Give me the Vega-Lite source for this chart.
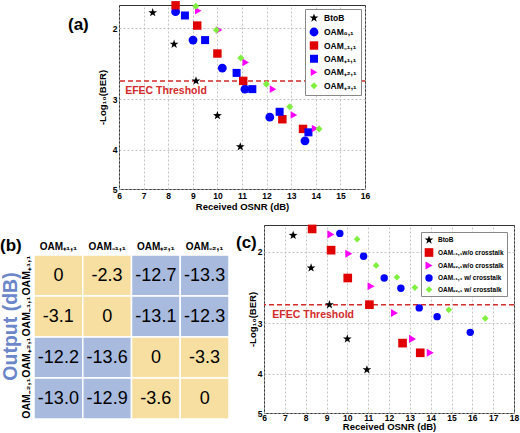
{
  "$schema": "https://vega.github.io/schema/vega-lite/v6.json",
  "padding": 0,
  "background": "white",
  "config": {
    "font": "Liberation Sans",
    "view": {"stroke": "#333333", "strokeWidth": 1},
    "axis": {
      "labelFontWeight": "bold", "labelFontSize": 8.5, "labelColor": "#000000",
      "titleFontWeight": "bold", "titleFontSize": 9.5, "titleColor": "#000000",
      "ticks": false, "domain": false,
      "gridColor": "#b5b5b5", "gridDash": [2, 2], "gridWidth": 0.8,
      "labelPadding": 2, "titlePadding": 2, "labelOverlap": false, "labelFlush": false
    },
    "title": {"font": "Liberation Sans", "fontWeight": "bold", "fontSize": 17, "anchor": "start", "frame": "group", "offset": 0, "color": "#000000"}
  },
  "datasets": {
    "osnr_a": [
      {"series": "BtoB", "osnr": 7.37, "nlogber": 1.83},
      {"series": "BtoB", "osnr": 8.24, "nlogber": 2.19},
      {"series": "BtoB", "osnr": 9.13, "nlogber": 2.70},
      {"series": "BtoB", "osnr": 10.0, "nlogber": 3.29},
      {"series": "BtoB", "osnr": 10.93, "nlogber": 3.93},
      {"series": "OAM₀,₁", "osnr": 8.30, "nlogber": 1.82},
      {"series": "OAM₀,₁", "osnr": 9.01, "nlogber": 2.14},
      {"series": "OAM₀,₁", "osnr": 10.20, "nlogber": 2.51},
      {"series": "OAM₀,₁", "osnr": 11.12, "nlogber": 2.83},
      {"series": "OAM₀,₁", "osnr": 12.13, "nlogber": 3.32},
      {"series": "OAM₀,₁", "osnr": 13.56, "nlogber": 3.80},
      {"series": "OAM₋₁,₁", "osnr": 8.30, "nlogber": 1.755},
      {"series": "OAM₋₁,₁", "osnr": 9.18, "nlogber": 1.97},
      {"series": "OAM₋₁,₁", "osnr": 10.0, "nlogber": 2.31},
      {"series": "OAM₋₁,₁", "osnr": 11.05, "nlogber": 2.70},
      {"series": "OAM₋₁,₁", "osnr": 12.64, "nlogber": 3.36},
      {"series": "OAM₋₁,₁", "osnr": 13.48, "nlogber": 3.55},
      {"series": "OAM₊₁,₁", "osnr": 8.68, "nlogber": 1.86},
      {"series": "OAM₊₁,₁", "osnr": 9.50, "nlogber": 2.14},
      {"series": "OAM₊₁,₁", "osnr": 10.78, "nlogber": 2.58},
      {"series": "OAM₊₁,₁", "osnr": 11.42, "nlogber": 2.83},
      {"series": "OAM₊₁,₁", "osnr": 12.53, "nlogber": 3.22},
      {"series": "OAM₊₁,₁", "osnr": 13.70, "nlogber": 3.62},
      {"series": "OAM₊₂,₁", "osnr": 9.22, "nlogber": 1.81},
      {"series": "OAM₊₂,₁", "osnr": 10.07, "nlogber": 2.02},
      {"series": "OAM₊₂,₁", "osnr": 11.15, "nlogber": 2.43},
      {"series": "OAM₊₂,₁", "osnr": 12.26, "nlogber": 2.83},
      {"series": "OAM₊₂,₁", "osnr": 13.11, "nlogber": 3.28},
      {"series": "OAM₊₂,₁", "osnr": 13.97, "nlogber": 3.54},
      {"series": "OAM₊₃,₁", "osnr": 9.12, "nlogber": 1.765},
      {"series": "OAM₊₃,₁", "osnr": 9.96, "nlogber": 2.02},
      {"series": "OAM₊₃,₁", "osnr": 10.95, "nlogber": 2.37},
      {"series": "OAM₊₃,₁", "osnr": 11.99, "nlogber": 2.75},
      {"series": "OAM₊₃,₁", "osnr": 12.94, "nlogber": 3.13},
      {"series": "OAM₊₃,₁", "osnr": 14.13, "nlogber": 3.55}
    ],
    "osnr_c": [
      {"series": "BtoB", "osnr": 7.40, "nlogber": 1.82},
      {"series": "BtoB", "osnr": 8.26, "nlogber": 2.19},
      {"series": "BtoB", "osnr": 9.14, "nlogber": 2.70},
      {"series": "BtoB", "osnr": 10.0, "nlogber": 3.28},
      {"series": "BtoB", "osnr": 10.94, "nlogber": 3.91},
      {"series": "OAM₋₁,₁w/o crosstalk", "osnr": 8.31, "nlogber": 1.755},
      {"series": "OAM₋₁,₁w/o crosstalk", "osnr": 9.22, "nlogber": 1.98},
      {"series": "OAM₋₁,₁w/o crosstalk", "osnr": 10.02, "nlogber": 2.32},
      {"series": "OAM₋₁,₁w/o crosstalk", "osnr": 11.06, "nlogber": 2.70},
      {"series": "OAM₋₁,₁w/o crosstalk", "osnr": 12.65, "nlogber": 3.36},
      {"series": "OAM₋₁,₁w/o crosstalk", "osnr": 13.50, "nlogber": 3.55},
      {"series": "OAM₊₂,₁w/o crosstalk", "osnr": 9.21, "nlogber": 1.81},
      {"series": "OAM₊₂,₁w/o crosstalk", "osnr": 10.07, "nlogber": 2.02},
      {"series": "OAM₊₂,₁w/o crosstalk", "osnr": 11.14, "nlogber": 2.43},
      {"series": "OAM₊₂,₁w/o crosstalk", "osnr": 12.26, "nlogber": 2.83},
      {"series": "OAM₊₂,₁w/o crosstalk", "osnr": 13.13, "nlogber": 3.28},
      {"series": "OAM₊₂,₁w/o crosstalk", "osnr": 13.98, "nlogber": 3.55},
      {"series": "OAM₋₁,₁ w/ crosstalk", "osnr": 9.64, "nlogber": 1.80},
      {"series": "OAM₋₁,₁ w/ crosstalk", "osnr": 10.78, "nlogber": 2.05},
      {"series": "OAM₋₁,₁ w/ crosstalk", "osnr": 11.77, "nlogber": 2.32},
      {"series": "OAM₋₁,₁ w/ crosstalk", "osnr": 12.57, "nlogber": 2.46},
      {"series": "OAM₋₁,₁ w/ crosstalk", "osnr": 13.45, "nlogber": 2.75},
      {"series": "OAM₋₁,₁ w/ crosstalk", "osnr": 14.31, "nlogber": 2.89},
      {"series": "OAM₋₁,₁ w/ crosstalk", "osnr": 15.90, "nlogber": 3.16},
      {"series": "OAM₊₂,₁ w/ crosstalk", "osnr": 10.47, "nlogber": 1.86},
      {"series": "OAM₊₂,₁ w/ crosstalk", "osnr": 11.38, "nlogber": 2.16},
      {"series": "OAM₊₂,₁ w/ crosstalk", "osnr": 12.38, "nlogber": 2.31},
      {"series": "OAM₊₂,₁ w/ crosstalk", "osnr": 13.24, "nlogber": 2.45},
      {"series": "OAM₊₂,₁ w/ crosstalk", "osnr": 14.87, "nlogber": 2.78},
      {"series": "OAM₊₂,₁ w/ crosstalk", "osnr": 16.62, "nlogber": 2.92}
    ],
    "xtalk": [
      {"output": "OAM₊₁,₁", "input": "OAM₊₁,₁", "value": 0, "label": "0"},
      {"output": "OAM₊₁,₁", "input": "OAM₋₁,₁", "value": -2.3, "label": "-2.3"},
      {"output": "OAM₊₁,₁", "input": "OAM₊₂,₁", "value": -12.7, "label": "-12.7"},
      {"output": "OAM₊₁,₁", "input": "OAM₋₂,₁", "value": -13.3, "label": "-13.3"},
      {"output": "OAM₋₁,₁", "input": "OAM₊₁,₁", "value": -3.1, "label": "-3.1"},
      {"output": "OAM₋₁,₁", "input": "OAM₋₁,₁", "value": 0, "label": "0"},
      {"output": "OAM₋₁,₁", "input": "OAM₊₂,₁", "value": -13.1, "label": "-13.1"},
      {"output": "OAM₋₁,₁", "input": "OAM₋₂,₁", "value": -12.3, "label": "-12.3"},
      {"output": "OAM₊₂,₁", "input": "OAM₊₁,₁", "value": -12.2, "label": "-12.2"},
      {"output": "OAM₊₂,₁", "input": "OAM₋₁,₁", "value": -13.6, "label": "-13.6"},
      {"output": "OAM₊₂,₁", "input": "OAM₊₂,₁", "value": 0, "label": "0"},
      {"output": "OAM₊₂,₁", "input": "OAM₋₂,₁", "value": -3.3, "label": "-3.3"},
      {"output": "OAM₋₂,₁", "input": "OAM₊₁,₁", "value": -13.0, "label": "-13.0"},
      {"output": "OAM₋₂,₁", "input": "OAM₋₁,₁", "value": -12.9, "label": "-12.9"},
      {"output": "OAM₋₂,₁", "input": "OAM₊₂,₁", "value": -3.6, "label": "-3.6"},
      {"output": "OAM₋₂,₁", "input": "OAM₋₂,₁", "value": 0, "label": "0"}
    ]
  },
  "spacing": 12,
  "resolve": {
    "scale": {"x": "independent", "y": "independent", "color": "independent", "shape": "independent", "size": "independent"},
    "legend": {"color": "independent", "shape": "independent", "size": "independent"}
  },
  "vconcat": [
    {
      "spacing": 0,
      "bounds": "flush",
      "resolve": {
        "scale": {"x": "independent", "y": "independent", "color": "independent", "shape": "independent", "size": "independent"},
        "legend": {"color": "independent", "shape": "independent", "size": "independent"}
      },
      "hconcat": [
        {"width": 85, "height": 10, "view": {"stroke": null}, "data": {"values": [{}]}, "mark": {"type": "point", "opacity": 0}},
        {
          "width": 246,
          "height": 184,
          "title": {"text": "(a)", "dx": -51, "dy": 37},
          "layer": [
            {
              "data": {"values": [{}]},
              "mark": {"type": "rule", "color": "#d42a2a", "strokeDash": [5, 3], "strokeWidth": 1.5},
              "encoding": {"y": {"datum": 2.7, "type": "quantitative"}}
            },
            {
              "data": {"values": [{}]},
              "mark": {"type": "text", "align": "left", "baseline": "middle", "fontSize": 10.5, "fontWeight": "bold", "color": "#d42a2a"},
              "encoding": {"x": {"datum": 6.25, "type": "quantitative"}, "y": {"datum": 2.86, "type": "quantitative"}, "text": {"value": "EFEC Threshold"}}
            },
            {
              "data": {"name": "osnr_a"},
              "mark": {"type": "point", "filled": true, "opacity": 1},
              "encoding": {
                "x": {"field": "osnr", "type": "quantitative", "scale": {"domain": [6, 16], "nice": false, "zero": false}, "axis": {"title": "Received OSNR (dB)", "values": [6, 7, 8, 9, 10, 11, 12, 13, 14, 15, 16], "tickCount": 30, "format": "d", "labelOverlap": false, "labelFlush": false, "grid": true}},
                "y": {"field": "nlogber", "type": "quantitative", "scale": {"type": "log", "domain": [1.752, 5], "reverse": true, "nice": false}, "axis": {"title": "-Log₁₀(BER)", "values": [2, 3, 4, 5], "tickCount": 10, "format": "d", "grid": true, "titlePadding": 5, "labelOverlap": false}},
                "size": {"field": "series", "type": "nominal", "scale": {"domain": ["BtoB", "OAM₀,₁", "OAM₋₁,₁", "OAM₊₁,₁", "OAM₊₂,₁", "OAM₊₃,₁"], "range": [85, 50, 42, 42, 55, 60]}, "legend": null},
                "color": {
                  "field": "series", "type": "nominal",
                  "scale": {"domain": ["BtoB", "OAM₀,₁", "OAM₋₁,₁", "OAM₊₁,₁", "OAM₊₂,₁", "OAM₊₃,₁"], "range": ["#000000", "#0000ff", "#e00000", "#0000ff", "#ff00ff", "#80f040"]},
                  "legend": {"title": null, "orient": "top-right", "offset": 4, "padding": 4, "rowPadding": 4.5, "labelFontSize": 8.5, "labelFontWeight": "bold", "labelOffset": 5, "symbolSize": 55, "symbolStrokeWidth": 0, "strokeColor": "#888888", "fillColor": "#ffffff", "labelLimit": 200}
                },
                "shape": {
                  "field": "series", "type": "nominal",
                  "scale": {"domain": ["BtoB", "OAM₀,₁", "OAM₋₁,₁", "OAM₊₁,₁", "OAM₊₂,₁", "OAM₊₃,₁"], "range": ["M0,-1L0.2351,-0.3236L0.9511,-0.309L0.3804,0.1236L0.5878,0.809L0,0.4L-0.5878,0.809L-0.3804,0.1236L-0.9511,-0.309L-0.2351,-0.3236Z", "circle", "square", "square", "triangle-right", "diamond"]},
                  "legend": {"title": null, "orient": "top-right", "offset": 4, "padding": 4, "rowPadding": 4.5, "labelFontSize": 8.5, "labelFontWeight": "bold", "labelOffset": 5, "symbolSize": 55, "symbolStrokeWidth": 0, "strokeColor": "#888888", "fillColor": "#ffffff", "labelLimit": 200}
                }
              }
            }
          ]
        }
      ]
    },
    {
      "spacing": 35,
      "bounds": "flush",
      "resolve": {
        "scale": {"x": "independent", "y": "independent", "color": "independent", "shape": "independent", "size": "independent"},
        "legend": {"color": "independent", "shape": "independent", "size": "independent"}
      },
      "hconcat": [
        {
          "width": 195,
          "height": 194,
          "title": {"text": "(b)", "dx": -34, "dy": 34},
          "view": {"stroke": null},
          "data": {"name": "xtalk"},
          "encoding": {
            "x": {"field": "input", "type": "nominal", "sort": ["OAM₊₁,₁", "OAM₋₁,₁", "OAM₊₂,₁", "OAM₋₂,₁"], "scale": {"paddingInner": 0, "paddingOuter": 0}, "axis": {"orient": "top", "offset": -30, "title": null, "labelAngle": 0, "labelFontSize": 10, "labelPadding": 4, "grid": false}},
            "y": {"field": "output", "type": "nominal", "sort": ["OAM₊₁,₁", "OAM₋₁,₁", "OAM₊₂,₁", "OAM₋₂,₁"], "scale": {"paddingInner": 0, "paddingOuter": 0.3659, "align": 1}, "axis": {"title": "Output (dB)", "titleColor": "#6b87c9", "titleFontSize": 19.5, "titleY": 101, "titleAlign": "center", "labelAngle": -90, "labelFontSize": 10.5, "labelPadding": 3, "titlePadding": 1, "grid": false}}
          },
          "layer": [
            {
              "mark": {"type": "rect", "stroke": "#ffffff", "strokeWidth": 1.5},
              "encoding": {"color": {"field": "value", "type": "quantitative", "scale": {"type": "threshold", "domain": [-6], "range": ["#a9badf", "#f6dfa0"]}, "legend": null}}
            },
            {
              "mark": {"type": "text", "fontSize": 18, "color": "#000000"},
              "encoding": {"text": {"field": "label", "type": "nominal"}}
            }
          ]
        },
        {
          "width": 250,
          "height": 188,
          "title": {"text": "(c)", "dx": -28, "dy": 31},
          "layer": [
            {
              "data": {"values": [{}]},
              "mark": {"type": "rule", "color": "#d42a2a", "strokeDash": [5, 3], "strokeWidth": 1.5},
              "encoding": {"y": {"datum": 2.7, "type": "quantitative"}}
            },
            {
              "data": {"values": [{}]},
              "mark": {"type": "text", "align": "left", "baseline": "middle", "fontSize": 10.5, "fontWeight": "bold", "color": "#d42a2a"},
              "encoding": {"x": {"datum": 6.4, "type": "quantitative"}, "y": {"datum": 2.86, "type": "quantitative"}, "text": {"value": "EFEC Threshold"}}
            },
            {
              "data": {"name": "osnr_c"},
              "mark": {"type": "point", "filled": true, "opacity": 1},
              "encoding": {
                "x": {"field": "osnr", "type": "quantitative", "scale": {"domain": [6, 18], "nice": false, "zero": false}, "axis": {"title": "Received OSNR (dB)", "values": [6, 7, 8, 9, 10, 11, 12, 13, 14, 15, 16, 17, 18], "tickCount": 30, "format": "d", "labelOverlap": false, "labelFlush": false, "labelPadding": 0, "titlePadding": 0, "grid": true}},
                "y": {"field": "nlogber", "type": "quantitative", "scale": {"type": "log", "domain": [1.716, 5], "reverse": true, "nice": false}, "axis": {"title": "-Log₁₀(BER)", "values": [2, 3, 4, 5], "tickCount": 10, "format": "d", "grid": true, "titlePadding": 0, "labelOverlap": false}},
                "size": {"field": "series", "type": "nominal", "scale": {"domain": ["BtoB", "OAM₋₁,₁w/o crosstalk", "OAM₊₂,₁w/o crosstalk", "OAM₋₁,₁ w/ crosstalk", "OAM₊₂,₁ w/ crosstalk"], "range": [85, 45, 55, 55, 60]}, "legend": null},
                "color": {
                  "field": "series", "type": "nominal",
                  "scale": {"domain": ["BtoB", "OAM₋₁,₁w/o crosstalk", "OAM₊₂,₁w/o crosstalk", "OAM₋₁,₁ w/ crosstalk", "OAM₊₂,₁ w/ crosstalk"], "range": ["#000000", "#e00000", "#ff00ff", "#0000ff", "#80f040"]},
                  "legend": {"title": null, "orient": "top-right", "offset": 7, "padding": 3, "rowPadding": 4, "labelFontSize": 6.5, "labelFontWeight": "bold", "labelOffset": 4, "symbolSize": 45, "symbolStrokeWidth": 0, "strokeColor": "#888888", "fillColor": "#ffffff", "labelLimit": 200}
                },
                "shape": {
                  "field": "series", "type": "nominal",
                  "scale": {"domain": ["BtoB", "OAM₋₁,₁w/o crosstalk", "OAM₊₂,₁w/o crosstalk", "OAM₋₁,₁ w/ crosstalk", "OAM₊₂,₁ w/ crosstalk"], "range": ["M0,-1L0.2351,-0.3236L0.9511,-0.309L0.3804,0.1236L0.5878,0.809L0,0.4L-0.5878,0.809L-0.3804,0.1236L-0.9511,-0.309L-0.2351,-0.3236Z", "square", "triangle-right", "circle", "diamond"]},
                  "legend": {"title": null, "orient": "top-right", "offset": 7, "padding": 3, "rowPadding": 4, "labelFontSize": 6.5, "labelFontWeight": "bold", "labelOffset": 4, "symbolSize": 45, "symbolStrokeWidth": 0, "strokeColor": "#888888", "fillColor": "#ffffff", "labelLimit": 200}
                }
              }
            }
          ]
        }
      ]
    }
  ]
}
